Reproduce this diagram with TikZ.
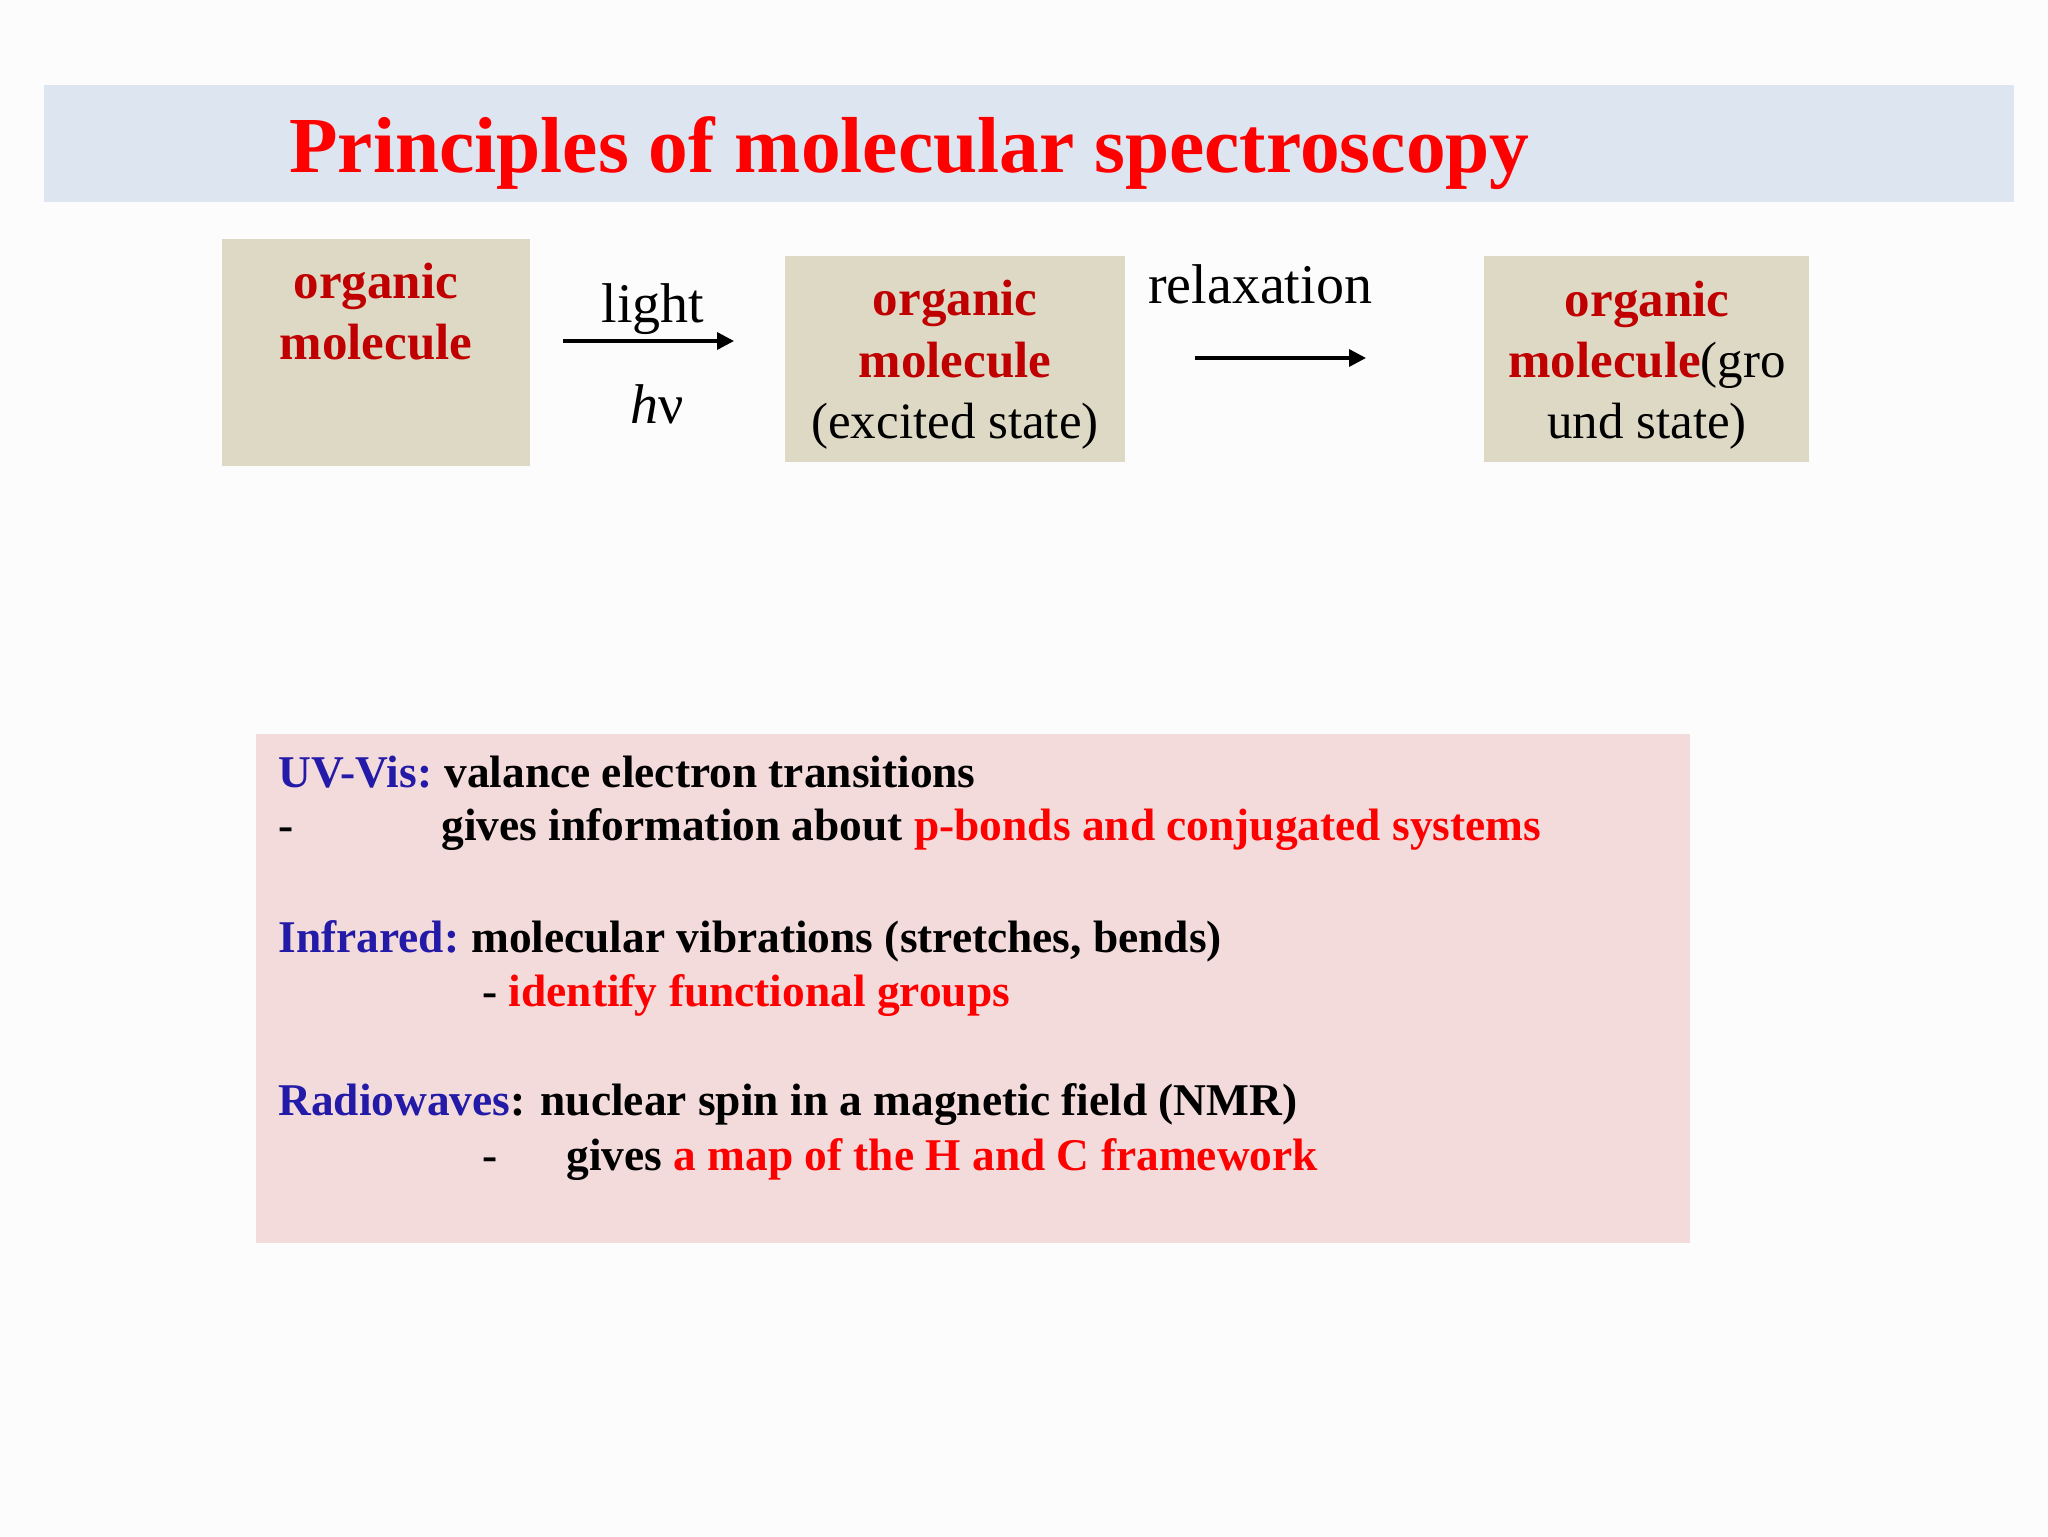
\documentclass[tikz,border=0pt]{standalone}
\usepackage{fontspec}
\setmainfont{Liberation Serif}
\usetikzlibrary{arrows.meta}
\definecolor{pagebg}{RGB}{253,252,252}
\definecolor{bandblue}{RGB}{221,229,240}
\definecolor{tanfill}{RGB}{221,217,196}
\definecolor{pinkfill}{RGB}{243,219,220}
\definecolor{darkred}{RGB}{192,0,0}
\definecolor{brightred}{RGB}{255,0,0}
\definecolor{navyblue}{RGB}{36,26,168}
\tikzset{
  tanbox/.style={fill=tanfill, draw=none, inner sep=0pt, anchor=north west},
  boxtxt/.style={inner sep=0pt, anchor=base, font=\fontsize{25.5}{30}\selectfont},
  lbl/.style={inner sep=0pt, anchor=base, font=\fontsize{28}{33}\selectfont},
  ptxt/.style={inner sep=0pt, anchor=base west, font=\fontsize{22.7}{27}\selectfont\bfseries},
  arr/.style={line width=1.7pt, -{Triangle[length=8.5pt,width=8.5pt]}}
}
\begin{document}
\begin{tikzpicture}[x=0.5pt, y=-0.5pt]
\useasboundingbox (0,0) rectangle (2048,1536);
\fill[pagebg] (0,0) rectangle (2048,1536);
% title band
\node[fill=bandblue, inner sep=0pt, anchor=north west, minimum width=985pt, minimum height=58.5pt] (band) at (44,85) {};
\node[inner sep=0pt, anchor=base west, text=brightred, font=\fontsize{39.7}{46}\selectfont\bfseries] (title) at (289,172) {Principles of molecular spectroscopy};
% boxes
\node[tanbox, minimum width=154pt, minimum height=113.5pt] (b1) at (222,239) {};
\node[tanbox, minimum width=170pt, minimum height=103pt] (b2) at (785,256) {};
\node[tanbox, minimum width=162.5pt, minimum height=103pt] (b3) at (1484,256) {};
% box 1 text
\node[boxtxt, text=darkred] (b1l1) at (376,298) {\bfseries organic};
\node[boxtxt, text=darkred] (b1l2) at (376,359) {\bfseries molecule};
% box 2 text
\node[boxtxt, text=darkred] (b2l1) at (955,315) {\bfseries organic};
\node[boxtxt, text=darkred] (b2l2) at (955,377) {\bfseries molecule};
\node[boxtxt] (b2l3) at (955,438) {(excited state)};
% box 3 text
\node[boxtxt, text=darkred] (b3l1) at (1647,316) {\bfseries organic};
\node[boxtxt] (b3l2) at (1647,377) {\textcolor{darkred}{\bfseries molecule}(gro};
\node[boxtxt] (b3l3) at (1647,438) {und state)};
% arrow labels
\node[lbl] (light) at (653,322) {light};
\node[lbl] (hnu) at (657,423) {\textit{h}ν};
\node[lbl] (relax) at (1260,303) {relaxation};
% arrows
\coordinate (a1s) at (563,341);
\coordinate (a1e) at (734,341);
\coordinate (a2s) at (1195,358);
\coordinate (a2e) at (1366,358);
\draw[arr] (a1s) -- (a1e);
\draw[arr] (a2s) -- (a2e);
% pink box
\node[fill=pinkfill, inner sep=0pt, anchor=north west, minimum width=717pt, minimum height=254.5pt] (pink) at (256,734) {};
\node[ptxt] (p1) at (278,787) {\textcolor{navyblue}{UV-Vis:}\hspace{-1.5pt} valance electron transitions};
\node[ptxt] (p2a) at (278,840) {-};
\node[ptxt] (p2b) at (441,840) {gives information about \textcolor{brightred}{p-bonds and conjugated systems}};
\node[ptxt] (p3) at (278,952) {\textcolor{navyblue}{Infrared:}\hspace{-1.5pt} molecular vibrations (stretches, bends)};
\node[ptxt] (p4) at (482,1006) {- \textcolor{brightred}{identify functional groups}};
\node[ptxt] (p5) at (278,1115) {\textcolor{navyblue}{Radiowaves}: nuclear spin in a magnetic field (NMR)};
\node[ptxt] (p6a) at (482,1170) {-};
\node[ptxt] (p6b) at (566,1170) {gives \textcolor{brightred}{a map of the H and C framework}};
\end{tikzpicture}
\end{document}
